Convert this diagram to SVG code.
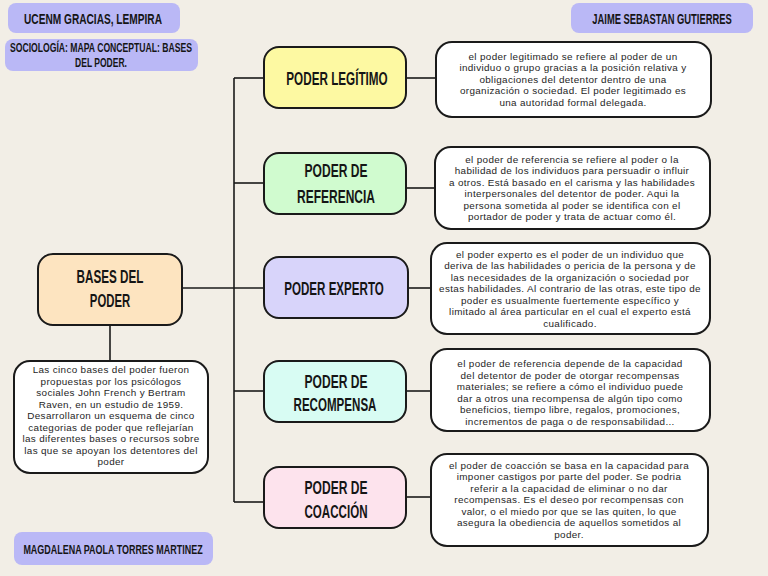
<svg xmlns="http://www.w3.org/2000/svg" width="768" height="576" viewBox="0 0 768 576">
<style>
.bg{fill:#f2eee6}
.hdr{fill:#bab8f6}
.ht{font-family:"Liberation Sans",Arial,sans-serif;font-weight:bold;fill:#151515;text-anchor:middle}
.node{stroke:#1a1a1a;stroke-width:2}
.nt{font-family:"Liberation Sans",Arial,sans-serif;font-weight:bold;font-size:18px;fill:#151515;text-anchor:middle}
.desc{fill:#ffffff;stroke:#1a1a1a;stroke-width:2}
.dt{font-family:"Liberation Sans",Arial,sans-serif;font-size:9.9px;letter-spacing:0.35px;fill:#1e1e1e;text-anchor:middle}
.ln{stroke:#1a1a1a;stroke-width:1.6;fill:none}
</style>
<rect class="bg" x="0" y="0" width="768" height="576"/>

<g id="headers">
<rect class="hdr" x="8" y="3" width="172" height="30" rx="8"/>
<text class="ht" font-size="14" transform="translate(93,24) scale(0.724,1)">UCENM GRACIAS, LEMPIRA</text>
<rect class="hdr" x="5" y="39" width="193" height="32" rx="8"/>
<text class="ht" font-size="12" transform="translate(101,52) scale(0.72,1)">SOCIOLOGÍA: MAPA CONCEPTUAL: BASES</text>
<text class="ht" font-size="12" transform="translate(101,67) scale(0.71,1)">DEL PODER.</text>
<rect class="hdr" x="571" y="3" width="182" height="30" rx="8"/>
<text class="ht" font-size="14" transform="translate(662,24) scale(0.67,1)">JAIME SEBASTAN GUTIERRES</text>
<rect class="hdr" x="14" y="532" width="199" height="33" rx="8"/>
<text class="ht" font-size="13" transform="translate(113,554) scale(0.69,1)">MAGDALENA PAOLA TORRES MARTINEZ</text>
</g>

<g id="connectors">
<line class="ln" x1="234" y1="78" x2="234" y2="502"/>
<line class="ln" x1="182" y1="288" x2="264" y2="288"/>
<line class="ln" x1="234" y1="78" x2="264" y2="78"/>
<line class="ln" x1="234" y1="183" x2="264" y2="183"/>
<line class="ln" x1="234" y1="391" x2="264" y2="391"/>
<line class="ln" x1="234" y1="502" x2="264" y2="502"/>
<line class="ln" x1="406" y1="78" x2="436" y2="78"/>
<line class="ln" x1="406" y1="188" x2="435" y2="188"/>
<line class="ln" x1="408" y1="288" x2="431" y2="288"/>
<line class="ln" x1="406" y1="391" x2="431" y2="391"/>
<line class="ln" x1="406" y1="497" x2="431" y2="497"/>
<line class="ln" x1="110" y1="325" x2="110" y2="362"/>
</g>

<g id="bases">
<rect class="node" x="38" y="254" width="144" height="71" rx="15" fill="#fde4c0"/>
<text class="nt" transform="translate(110,283) scale(0.65,1)">BASES DEL</text>
<text class="nt" transform="translate(110,307) scale(0.63,1)">PODER</text>
</g>

<g id="bases-desc">
<rect class="desc" x="14" y="361" width="194" height="112" rx="16"/>
<text class="dt" x="111" y="373.4">Las cinco bases del poder fueron</text>
<text class="dt" x="111" y="384.9">propuestas por los psicólogos</text>
<text class="dt" x="111" y="396.4">sociales John French y Bertram</text>
<text class="dt" x="111" y="407.9">Raven, en un estudio de 1959.</text>
<text class="dt" x="111" y="419.4">Desarrollaron un esquema de cinco</text>
<text class="dt" x="111" y="430.9">categorias de poder que reflejarían</text>
<text class="dt" x="111" y="442.4">las diferentes bases o recursos sobre</text>
<text class="dt" x="111" y="453.9">las que se apoyan los detentores del</text>
<text class="dt" x="111" y="465.4">poder</text>
</g>

<g id="legitimo">
<rect class="node" x="264" y="47" width="142" height="61" rx="15" fill="#fdf9a2"/>
<text class="nt" transform="translate(337,85) scale(0.65,1)">PODER LEGÍTIMO</text>
</g>
<g id="legitimo-desc">
<rect class="desc" x="436" y="42" width="275" height="75" rx="16"/>
<text class="dt" x="573" y="59.5">el poder legitimado se refiere al poder de un</text>
<text class="dt" x="573" y="71">individuo o grupo gracias a la posición relativa y</text>
<text class="dt" x="573" y="82.5">obligaciones del detentor dentro de una</text>
<text class="dt" x="573" y="94">organización o sociedad. El poder legitimado es</text>
<text class="dt" x="573" y="105.5">una autoridad formal delegada.</text>
</g>

<g id="referencia">
<rect class="node" x="264" y="153" width="142" height="61" rx="15" fill="#d0fbcf"/>
<text class="nt" transform="translate(336,177) scale(0.67,1)">PODER DE</text>
<text class="nt" transform="translate(336,203) scale(0.667,1)">REFERENCIA</text>
</g>
<g id="referencia-desc">
<rect class="desc" x="435" y="147" width="275" height="82" rx="16"/>
<text class="dt" x="572" y="162.7">el poder de referencia se refiere al poder o la</text>
<text class="dt" x="572" y="174.2">habilidad de los individuos para persuadir o influir</text>
<text class="dt" x="572" y="185.7">a otros. Está basado en el carisma y las habilidades</text>
<text class="dt" x="572" y="197.2">interpersonales del detentor de poder. Aqui la</text>
<text class="dt" x="572" y="208.7">persona sometida al poder se identifica con el</text>
<text class="dt" x="572" y="220.2">portador de poder y trata de actuar como él.</text>
</g>

<g id="experto">
<rect class="node" x="264" y="257" width="144" height="61" rx="15" fill="#d8d4fa"/>
<text class="nt" transform="translate(334,295) scale(0.645,1)">PODER EXPERTO</text>
</g>
<g id="experto-desc">
<rect class="desc" x="431" y="243" width="279" height="91" rx="16"/>
<text class="dt" x="570" y="257.9">el poder experto es el poder de un individuo que</text>
<text class="dt" x="570" y="269.4">deriva de las habilidades o pericia de la persona y de</text>
<text class="dt" x="570" y="280.9">las necesidades de la organización o sociedad por</text>
<text class="dt" x="570" y="292.4">estas habilidades. Al contrario de las otras, este tipo de</text>
<text class="dt" x="570" y="303.9">poder es usualmente fuertemente específico y</text>
<text class="dt" x="570" y="315.4">limitado al área particular en el cual el experto está</text>
<text class="dt" x="570" y="326.9">cualificado.</text>
</g>

<g id="recompensa">
<rect class="node" x="264" y="361" width="142" height="61" rx="15" fill="#d8fcf3"/>
<text class="nt" transform="translate(336,388) scale(0.67,1)">PODER DE</text>
<text class="nt" transform="translate(335,411) scale(0.643,1)">RECOMPENSA</text>
</g>
<g id="recompensa-desc">
<rect class="desc" x="431" y="349" width="279" height="82" rx="16"/>
<text class="dt" x="570" y="367.2">el poder de referencia depende de la capacidad</text>
<text class="dt" x="570" y="378.7">del detentor de poder de otorgar recompensas</text>
<text class="dt" x="570" y="390.2">materiales; se refiere a cómo el individuo puede</text>
<text class="dt" x="570" y="401.7">dar a otros una recompensa de algún tipo como</text>
<text class="dt" x="570" y="413.2">beneficios, tiempo libre, regalos, promociones,</text>
<text class="dt" x="570" y="424.7">incrementos de paga o de responsabilidad...</text>
</g>

<g id="coaccion">
<rect class="node" x="264" y="467" width="142" height="61" rx="15" fill="#fde3ed"/>
<text class="nt" transform="translate(336,494) scale(0.67,1)">PODER DE</text>
<text class="nt" transform="translate(336,518) scale(0.643,1)">COACCIÓN</text>
</g>
<g id="coaccion-desc">
<rect class="desc" x="431" y="454" width="277" height="92" rx="16"/>
<text class="dt" x="569" y="468.9">el poder de coacción se basa en la capacidad para</text>
<text class="dt" x="569" y="480.4">imponer castigos por parte del poder. Se podria</text>
<text class="dt" x="569" y="491.9">referir a la capacidad de eliminar o no dar</text>
<text class="dt" x="569" y="503.4">recompensas. Es el deseo por recompensas con</text>
<text class="dt" x="569" y="514.9">valor, o el miedo por que se las quiten, lo que</text>
<text class="dt" x="569" y="526.4">asegura la obediencia de aquellos sometidos al</text>
<text class="dt" x="569" y="537.9">poder.</text>
</g>
</svg>
